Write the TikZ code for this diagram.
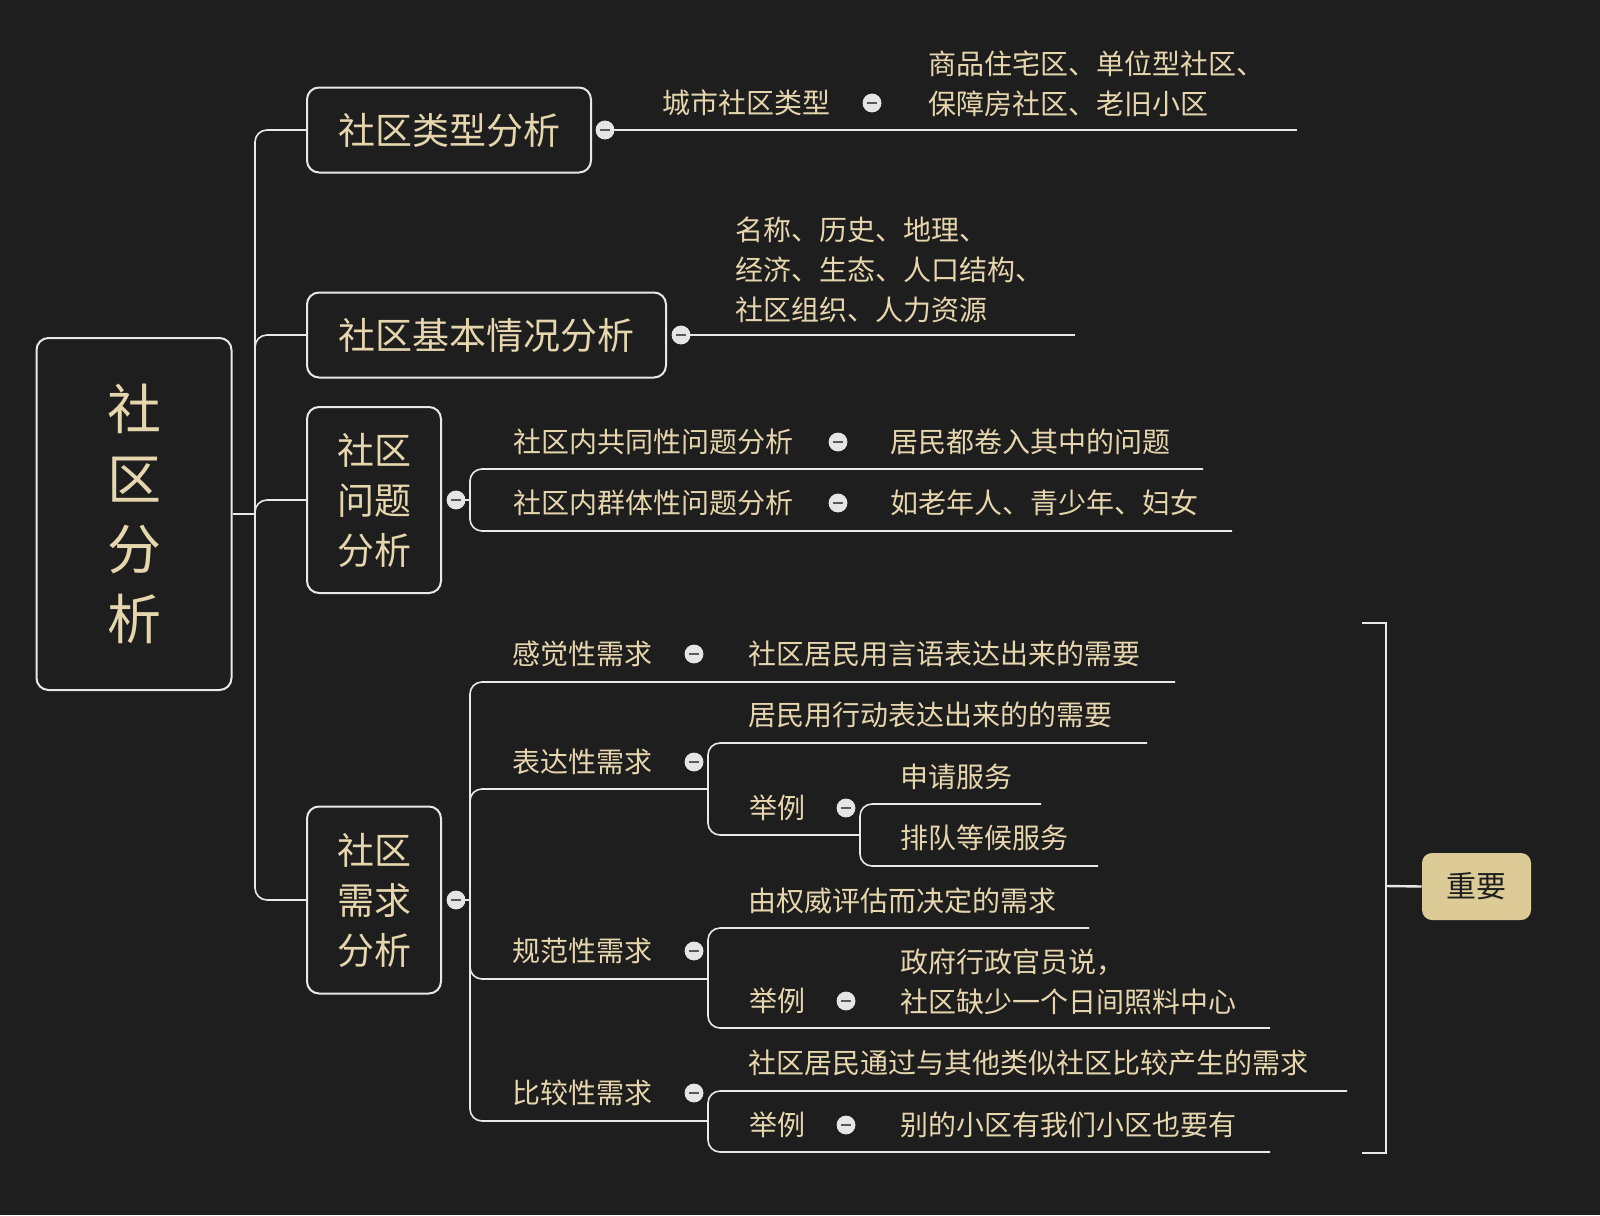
\documentclass[tikz,border=0pt]{standalone}
\usepackage{fontspec}
\newfontfamily\cjk{Noto Sans CJK SC}
\usetikzlibrary{positioning}
\definecolor{bgdark}{HTML}{1E1E1E}
\definecolor{txtgold}{HTML}{E6D6AE}
\definecolor{linegray}{HTML}{E8E8E8}
\definecolor{tagfill}{HTML}{DCCB97}

\begin{document}
\begin{tikzpicture}[
    x=0.5pt, y=-0.5pt,
    every node/.style={text=txtgold, inner sep=0pt},
    mainbox/.style={draw=linegray, line width=1pt, rounded corners=6pt, align=center,
        font=\cjk\fontsize{18.5}{25}\selectfont, inner sep=0pt},
    label/.style={font=\cjk\fontsize{14}{20}\selectfont, align=left},
    link/.style={draw=linegray, line width=0.8pt, rounded corners=6pt},
    knob/.style={circle, fill=gray!20, draw=linegray, minimum size=9pt,
        path picture={\draw[gray!70!black, line width=1.1pt]
            ([xshift=-2.6pt]path picture bounding box.center) --
            ([xshift=2.6pt]path picture bounding box.center);}}
]
\fill[bgdark] (0,0) rectangle (1600,1215);
\useasboundingbox (0,0) rectangle (1600,1215);

% --- root ---
\node[mainbox, minimum width=97.5pt, minimum height=176pt,
      font=\cjk\fontsize{27}{35}\selectfont] (root) at (134,514) {社\\区\\分\\析};
\coordinate (trunk) at (255,514);

% --- first level boxes ---
\node[mainbox, minimum width=142pt, minimum height=42.5pt] (type) at (449,130) {社区类型分析};
\node[mainbox, minimum width=179.5pt, minimum height=42.5pt] (basic) at (486.5,335) {社区基本情况分析};
\node[mainbox, minimum width=67pt, minimum height=93pt] (problem) at (374,500) {社区\\问题\\分析};
\node[mainbox, minimum width=67pt, minimum height=93.5pt] (need) at (374,900) {社区\\需求\\分析};

\draw[link] (root.east) -- (trunk);
\foreach \b in {type, basic, problem, need}
    \draw[link] (trunk) |- (\b.west);

% --- community type ---
\node[knob] (ktype) at (605,130) {};
\coordinate (etype) at (1297,130);
\draw[link] (ktype) -- (etype);
\node[label] (city) at (746,103) {城市社区类型};
\node[knob] (kcity) at (872,103) {};
\node[label, anchor=west] (citylist) at (928,84) {商品住宅区、单位型社区、\\保障房社区、老旧小区};

% --- basic situation ---
\node[knob] (kbasic) at (681,335) {};
\coordinate (ebasic) at (1075,335);
\draw[link] (kbasic) -- (ebasic);
\node[label, anchor=west] (basiclist) at (735,270) {名称、历史、地理、\\经济、生态、人口结构、\\社区组织、人力资源};

% --- problem analysis ---
\node[knob] (kprob) at (456,500) {};
\coordinate (jprob) at (470,500);
\coordinate (ecommon) at (1203,469);
\coordinate (egroup) at (1232,531);
\draw[link] (kprob) -- (jprob);
\draw[link] (jprob) |- (ecommon);
\draw[link] (jprob) |- (egroup);
\node[label] (common) at (653,442) {社区内共同性问题分析};
\node[knob] (kcommon) at (838,442) {};
\node[label, anchor=west] (commontxt) at (890,442) {居民都卷入其中的问题};
\node[label] (group) at (653,503) {社区内群体性问题分析};
\node[knob] (kgroup) at (838,503) {};
\node[label, anchor=west] (grouptxt) at (890,503) {如老年人、青少年、妇女};

% --- need analysis ---
\node[knob] (kneed) at (456,900) {};
\coordinate (jneed) at (470,900);
\draw[link] (kneed) -- (jneed);
\coordinate (efelt) at (1175,682);
\coordinate (eexpr) at (708,789);
\coordinate (enorm) at (708,979);
\coordinate (ecomp) at (708,1121);
\foreach \e in {efelt, eexpr, enorm, ecomp}
    \draw[link] (jneed) |- (\e);

% felt need
\node[label] (felt) at (582,654) {感觉性需求};
\node[knob] (kfelt) at (694,654) {};
\node[label, anchor=west] (felttxt) at (748,654) {社区居民用言语表达出来的需要};

% expressed need
\node[label] (expr) at (582,762) {表达性需求};
\node[knob] (kexpr) at (694,762) {};
\coordinate (eexpr1) at (1147,743);
\coordinate (eexpr2) at (860,835);
\draw[link] (eexpr) |- (eexpr1);
\draw[link] (eexpr) |- (eexpr2);
\node[label, anchor=west] (exprtxt) at (748,715) {居民用行动表达出来的的需要};
\node[label] (exprex) at (777,808) {举例};
\node[knob] (kexprex) at (846,808) {};
\coordinate (eapply) at (1041,804);
\coordinate (equeue) at (1098,866);
\draw[link] (eexpr2) |- (eapply);
\draw[link] (eexpr2) |- (equeue);
\node[label, anchor=west] (apply) at (900,777) {申请服务};
\node[label, anchor=west] (queue) at (900,838) {排队等候服务};

% normative need
\node[label] (norm) at (582,951) {规范性需求};
\node[knob] (knorm) at (694,951) {};
\coordinate (enorm1) at (1089,928);
\coordinate (enorm2) at (1270,1028);
\draw[link] (enorm) |- (enorm1);
\draw[link] (enorm) |- (enorm2);
\node[label, anchor=west] (normtxt) at (748,901) {由权威评估而决定的需求};
\node[label] (normex) at (777,1001) {举例};
\node[knob] (knormex) at (846,1001) {};
\node[label, anchor=west] (normextxt) at (900,982) {政府行政官员说，\\社区缺少一个日间照料中心};

% comparative need
\node[label] (comp) at (582,1093) {比较性需求};
\node[knob] (kcomp) at (694,1093) {};
\coordinate (ecomp1) at (1347,1091);
\coordinate (ecomp2) at (1270,1152);
\draw[link] (ecomp) |- (ecomp1);
\draw[link] (ecomp) |- (ecomp2);
\node[label, anchor=west] (comptxt) at (748,1063) {社区居民通过与其他类似社区比较产生的需求};
\node[label] (compex) at (777,1125) {举例};
\node[knob] (kcompex) at (846,1125) {};
\node[label, anchor=west] (compextxt) at (900,1125) {别的小区有我们小区也要有};

% --- summary bracket ---
\node[fill=tagfill, rounded corners=5pt, minimum width=54.5pt, minimum height=33.5pt,
      text=bgdark, font=\cjk\fontsize{15}{20}\selectfont] (tag) at (1476.5,886.5) {重要};
\coordinate (btop) at (1362,623);
\coordinate (bbot) at (1362,1153);
\draw[draw=linegray, line width=1.2pt] (btop) -- ++(24,0) |- (bbot);
\draw[draw=linegray, line width=1.2pt] (1386,886) -- (tag.west);
\end{tikzpicture}
\end{document}
